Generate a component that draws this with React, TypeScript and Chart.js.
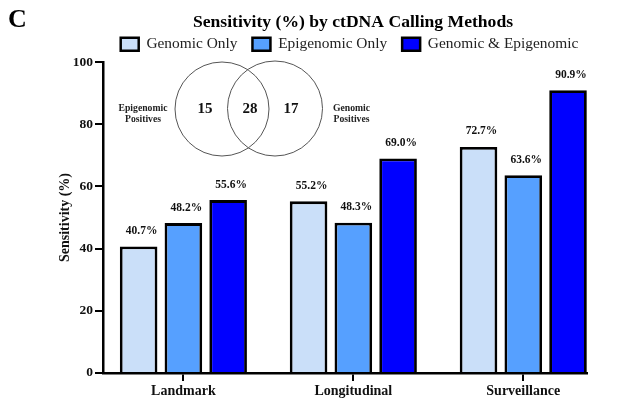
import React, { useEffect, useRef } from "react";
import { Chart, registerables } from "chart.js";

Chart.register(...registerables);

const categories = ["Landmark", "Longitudinal", "Surveillance"];
const genomicOnly = [40.7, 55.2, 72.7];
const epigenomicOnly = [48.2, 48.3, 63.6];
const genomicAndEpigenomic = [55.6, 69.0, 90.9];
const seriesNames = ["Genomic Only", "Epigenomic Only", "Genomic & Epigenomic"];
const seriesColors = ["#CADFF9", "#56A0FF", "#0000FF"];
const vennCounts = ["15", "28", "17"];
const vennLeftLabel = ["Epigenomic", "Positives"];
const vennRightLabel = ["Genomic", "Positives"];
const panelLetter = "C";
const chartTitle = "Sensitivity (%) by ctDNA Calling Methods";
const yAxisTitle = "Sensitivity (%)";

const SERIF = "'Liberation Serif', 'Times New Roman', serif";

const toPoints = (values: number[]) => values.map((y, x) => ({ x, y }));

const shiftPlugin = {
  id: "shiftHeader",
  afterLayout(chart: any) {
    if (chart.titleBlock) {
      chart.titleBlock.left += 59.5;
      chart.titleBlock.right += 59.5;
    }
    if (chart.legend) {
      chart.legend.left += 56;
      chart.legend.right += 56;
    }
  },
};

const overlayPlugin = {
  id: "overlay",
  afterDatasetsDraw(chart: any) {
    const { ctx } = chart;
    ctx.save();
    ctx.fillStyle = "#111";
    ctx.textAlign = "center";
    ctx.textBaseline = "middle";
    ctx.font = `bold 11.5px ${SERIF}`;
    chart.data.datasets.forEach((ds: any, i: number) => {
      chart.getDatasetMeta(i).data.forEach((bar: any, j: number) => {
        ctx.fillText(`${ds.data[j].y.toFixed(1)}%`, bar.x + 3, bar.y - 15.5);
      });
    });

    ctx.fillStyle = "#000";
    ctx.textAlign = "left";
    ctx.font = `bold 26px ${SERIF}`;
    ctx.fillText(panelLetter, 8, 20);

    ctx.strokeStyle = "#555";
    ctx.lineWidth = 1;
    ctx.beginPath();
    ctx.arc(222, 109, 47, 0, Math.PI * 2);
    ctx.stroke();
    ctx.beginPath();
    ctx.arc(275, 108.5, 47.5, 0, Math.PI * 2);
    ctx.stroke();

    ctx.textAlign = "center";
    ctx.fillStyle = "#111";
    ctx.font = `bold 15px ${SERIF}`;
    [205, 250, 291].forEach((x, i) => ctx.fillText(vennCounts[i], x, 109.5));

    ctx.font = `bold 9.7px ${SERIF}`;
    ctx.fillStyle = "#222";
    vennLeftLabel.forEach((t, i) => ctx.fillText(t, 143, 108 + i * 11.5));
    vennRightLabel.forEach((t, i) => ctx.fillText(t, 351.5, 108 + i * 11.5));
    ctx.restore();
  },
};

export default function App() {
  const ref = useRef<HTMLCanvasElement>(null);
  useEffect(() => {
    const series = [genomicOnly, epigenomicOnly, genomicAndEpigenomic];
    const chart = new Chart(ref.current!, {
      type: "bar",
      data: {
        datasets: series.map((values, i) => ({
          label: seriesNames[i],
          data: toPoints(values),
          backgroundColor: seriesColors[i],
          borderColor: "#000",
          borderWidth: 2.8,
          borderSkipped: "bottom",
          categoryPercentage: 0.79,
          barPercentage: 0.84,
        })),
      },
      options: {
        responsive: false,
        animation: false,
        devicePixelRatio: 1,
        layout: { padding: { left: 0, right: 42, top: 0, bottom: 0 } },
        plugins: {
          tooltip: { enabled: false },
          title: {
            display: true,
            text: chartTitle,
            color: "#000",
            font: { family: SERIF, size: 17.6, weight: "bold" },
            padding: { top: 12, bottom: -11.5 },
          },
          legend: {
            display: true,
            position: "top",
            labels: {
              font: { family: SERIF, size: 15.4 },
              color: "#222",
              boxWidth: 18,
              boxHeight: 13,
              padding: 15,
              generateLabels(chart: any) {
                return chart.data.datasets.map((ds: any, i: number) => ({
                  text: ds.label,
                  fillStyle: ds.backgroundColor,
                  strokeStyle: "#000",
                  lineWidth: 2.5,
                  hidden: false,
                  datasetIndex: i,
                  fontColor: "#222",
                }));
              },
            },
          },
        },
        scales: {
          x: {
            type: "linear",
            offset: false,
            min: -0.473,
            max: 2.375,
            afterBuildTicks(scale: any) {
              scale.ticks = categories.map((_, value) => ({ value }));
            },
            afterFit(scale: any) {
              scale.height = 28;
            },
            ticks: {
              callback: (v: any) => categories[v as number],
              color: "#111",
              font: { family: SERIF, size: 14, weight: "bold" },
              padding: 2,
              maxRotation: 0,
            },
            grid: { offset: false, drawOnChartArea: false, color: "#000", lineWidth: 2, tickLength: 8 },
            border: { color: "#000", width: 2.5 },
          },
          y: {
            min: 0,
            max: 100,
            afterFit(scale: any) {
              scale.width = 103;
            },
            ticks: {
              stepSize: 20,
              color: "#111",
              font: { family: SERIF, size: 13.5, weight: "bold" },
              padding: 2,
            },
            grid: { drawOnChartArea: false, color: "#000", lineWidth: 2, tickLength: 8 },
            border: { color: "#000", width: 2.5 },
            title: {
              display: true,
              text: yAxisTitle,
              color: "#111",
              font: { family: SERIF, size: 14, weight: "bold" },
              padding: { top: 57, bottom: 0 },
            },
          },
        },
      },
      plugins: [shiftPlugin, overlayPlugin],
    } as any);
    return () => chart.destroy();
  }, []);
  return (
    <div style={{ position: "absolute", left: 0, top: 0, width: 629, height: 401, background: "#fff" }}>
      <canvas ref={ref} width={629} height={401} style={{ display: "block" }} />
    </div>
  );
}
